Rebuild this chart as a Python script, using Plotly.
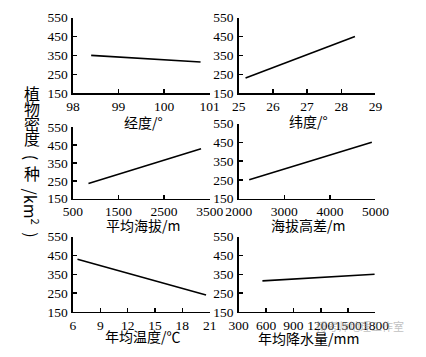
import plotly.graph_objects as go

# ---- data ----
lon = [98.4, 100.8]
dens_lon = [350, 315]
lat = [25.2, 28.4]
dens_lat = [230, 450]
alt = [840, 3310]
dens_alt = [235, 430]
relief = [2230, 4920]
dens_relief = [250, 450]
temp = [6.5, 20.6]
dens_temp = [430, 240]
precip = [560, 1790]
dens_precip = [315, 350]

y_ticks = [150, 250, 350, 450, 550]
x_ticks_lon = [98, 99, 100, 101]
x_ticks_lat = [25, 26, 27, 28, 29]
x_ticks_alt = [500, 1500, 2500, 3500]
x_ticks_relief = [2000, 3000, 4000, 5000]
x_ticks_temp = [6, 9, 12, 15, 18, 21]
x_ticks_precip = [300, 600, 900, 1200, 1500, 1800]

x_titles = ["经度/°", "纬度/°", "平均海拔/m", "海拔高差/m", "年均温度/℃", "年均降水量/mm"]

W, H = 426, 357

panels = [
    (lon, dens_lon, x_ticks_lon),
    (lat, dens_lat, x_ticks_lat),
    (alt, dens_alt, x_ticks_alt),
    (relief, dens_relief, x_ticks_relief),
    (temp, dens_temp, x_ticks_temp),
    (precip, dens_precip, x_ticks_precip),
]

# pixel layout: (x0, x1, ytop, ybottom)
boxes = [
    (64, 210, 11, 90),
    (241, 387, 11, 90),
    (64, 210, 125.7, 200),
    (241, 387, 121.7, 200),
    (64, 210, 239.7, 318.3),
    (241, 387, 239.7, 318.3),
]
title_pos = [(139, 120), (315, 119), (139, 228), (315, 228), (139, 343), (315, 345)]

serif = "Liberation Serif"
fig = go.Figure()
layout = {}
tick_font = dict(family=serif, size=13.5, color="black")
for i, ((xs, ys, xt), (x0, x1, yt, yb)) in enumerate(zip(panels, boxes)):
    n = "" if i == 0 else str(i + 1)
    fig.add_trace(go.Scatter(x=xs, y=ys, mode="lines",
                             line=dict(color="black", width=1.6),
                             xaxis="x" + n, yaxis="y" + n, showlegend=False,
                             hoverinfo="skip"))
    common = dict(showline=True, linecolor="black", linewidth=1.5, showgrid=False,
                  zeroline=False, ticks="inside", ticklen=4, tickwidth=1.5,
                  tickcolor="black", tickfont=tick_font)
    layout["xaxis" + n] = dict(common, domain=[x0 / W, x1 / W], anchor="y" + n,
                               range=[xt[0], xt[-1]], tickvals=xt, tickangle=0,
                               ticklabelstandoff=0)
    layout["yaxis" + n] = dict(common, domain=[1 - yb / H, 1 - yt / H], anchor="x" + n,
                               range=[150, 550], tickvals=y_ticks,
                               ticklabelstandoff=1)
fig.update_layout(**layout)

ann = []
cjk = "Noto Sans CJK SC"
for t, (px, py) in zip(x_titles, title_pos):
    ann.append(dict(text=t, x=px / W, y=1 - py / H, xref="paper", yref="paper",
                    showarrow=False, xanchor="center", yanchor="middle",
                    font=dict(family=cjk, size=14, color="black")))

# vertical y-axis title 植物密度（种/km²）
for ch, py in zip("植物密度", [90, 105.5, 121, 136.5]):
    ann.append(dict(text=ch, x=20 / W, y=1 - py / H, xref="paper", yref="paper",
                    showarrow=False, xanchor="center", yanchor="middle",
                    font=dict(family=cjk, size=16, color="black")))
for txt, py, ang in [("(", 157, 90), ("种", 173, 0), ("/km<sup>2</sup>", 208, 90), (")", 238, 90)]:
    ann.append(dict(text=txt, x=20 / W, y=1 - py / H, xref="paper", yref="paper",
                    showarrow=False, xanchor="center", yanchor="middle", textangle=ang,
                    font=dict(family=cjk, size=16, color="black")))

# faint watermark
ann.append(dict(text="博考师地理工作室", x=370 / W, y=1 - 333 / H, xref="paper", yref="paper",
                showarrow=False, xanchor="center", yanchor="middle",
                font=dict(family=cjk, size=11, color="rgba(150,150,150,0.6)")))

fig.update_layout(annotations=ann, width=W, height=H,
                  font=dict(family=serif, color="black"),
                  margin=dict(l=0, r=0, t=0, b=0),
                  paper_bgcolor="white", plot_bgcolor="white")
fig.write_html("out.html", config={"displayModeBar": False, "staticPlot": True},
               post_script="document.body.style.margin='0';")
